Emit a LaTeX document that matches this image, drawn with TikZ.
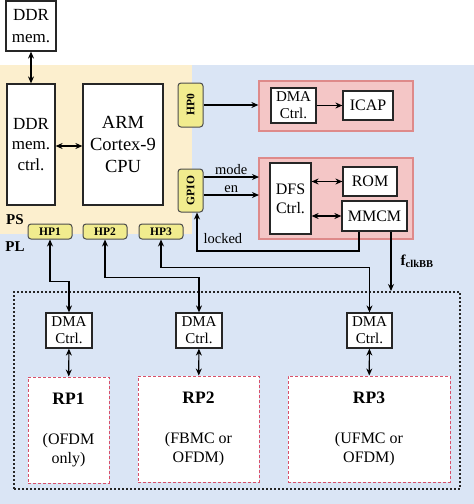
\documentclass[tikz,border=0pt]{standalone}
\usepackage{fontspec}
\setmainfont{Liberation Serif}
\usepackage{tikz}
\usetikzlibrary{shapes.geometric, arrows, arrows.meta}

\definecolor{psyellow}{HTML}{FCEFCE}
\definecolor{plblue}{HTML}{DAE5F5}
\definecolor{hpyellow}{HTML}{F1EC8E}
\definecolor{regionred}{HTML}{F4C6C6}
\definecolor{regionedge}{HTML}{DE8A8A}
\definecolor{rpedge}{HTML}{D8506A}

\tikzset{
    blk/.style={draw=black!85, fill=white, line width=1.2pt, align=center, inner sep=0pt,
        font=\fontsize{16}{19}\selectfont},
    smallblk/.style={blk, font=\fontsize{15}{17}\selectfont},
    hpbox/.style={draw=black!70, fill=hpyellow, line width=1pt, rounded corners=3pt,
        inner sep=0pt, font=\bfseries\fontsize{11.5}{12}\selectfont},
    region/.style={draw=regionedge, fill=regionred, line width=1.2pt, inner sep=0pt},
    rpbox/.style={draw=rpedge, fill=white, dash pattern=on 3pt off 2pt, line width=1pt, align=center, inner sep=0pt,
        font=\fontsize{16}{19}\selectfont},
    link/.style={line width=1.2pt, >={Stealth[length=7pt, width=6pt]}},
    sig/.style={font=\fontsize{14.5}{16}\selectfont},
}

\begin{document}
\begin{tikzpicture}[x=1pt, y=-1pt]
        \useasboundingbox (0,0) rectangle (474,504);
        % background: PS and PL
        \fill[plblue] (192,65) rectangle (474,504);
        \fill[plblue] (0,234) rectangle (474,504);
        \fill[psyellow] (0,65) rectangle (192,234);

        \node[blk, minimum width=50pt, minimum height=50pt, font=\fontsize{17}{22}\selectfont] (ddr_mem) at (31,26) {DDR\\mem.};
        \node[blk, minimum width=48pt, minimum height=121pt, font=\fontsize{17}{20.5}\selectfont] (ddr_ctrl) at (31,144.5) {DDR\\mem.\\ctrl.};
        \node[blk, minimum width=80pt, minimum height=121pt, font=\fontsize{18.5}{22}\selectfont] (arm) at (123,144.5) {ARM\\Cortex-9\\CPU};

        \node[hpbox, minimum width=25pt, minimum height=44pt] (hp0) at (190.5,105) {\rotatebox{90}{HP0}};
        \node[hpbox, minimum width=25pt, minimum height=43pt] (gpio) at (190.5,190.5) {\rotatebox{90}{GPIO}};
        \node[hpbox, minimum width=44pt, minimum height=15pt] (hp1) at (50,231.5) {HP1};
        \node[hpbox, minimum width=44pt, minimum height=15pt] (hp2) at (105,231.5) {HP2};
        \node[hpbox, minimum width=44pt, minimum height=15pt] (hp3) at (161,231.5) {HP3};

        \node[font=\bfseries\fontsize{15}{16}\selectfont] (ps) at (15,220) {PS};
        \node[font=\bfseries\fontsize{15}{16}\selectfont] (pl) at (15,247) {PL};

        % reconfiguration and clocking regions
        \node[region, minimum width=154pt, minimum height=50pt] (cfg_region) at (336,106) {};
        \node[smallblk, minimum width=45pt, minimum height=35pt] (dma_cfg) at (293.5,105.5) {DMA\\Ctrl.};
        \node[blk, minimum width=50pt, minimum height=29pt] (icap) at (368,105.5) {ICAP};

        \node[region, minimum width=154pt, minimum height=81pt] (clk_region) at (336,198.5) {};
        \node[blk, minimum width=41pt, minimum height=71pt] (dfs) at (290.5,198.5) {DFS\\Ctrl.};
        \node[blk, minimum width=54pt, minimum height=29pt] (rom) at (370,181.5) {ROM};
        \node[blk, minimum width=65pt, minimum height=30pt] (mmcm) at (374.5,216) {MMCM};

        % reconfigurable partitions
        \node[draw=black!85, line width=2pt, dotted, minimum width=446pt, minimum height=197pt] (rp_zone) at (237,390.5) {};
        \node[smallblk, minimum width=46pt, minimum height=35pt] (dma1) at (69,330.5) {DMA\\Ctrl.};
        \node[smallblk, minimum width=46pt, minimum height=35pt] (dma2) at (199,330.5) {DMA\\Ctrl.};
        \node[smallblk, minimum width=45pt, minimum height=35pt] (dma3) at (369.5,330.5) {DMA\\Ctrl.};
        \node[rpbox, minimum width=81pt, minimum height=106pt] (rp1) at (68.5,430) {{\bfseries\fontsize{17.5}{19}\selectfont RP1}\\[21pt](OFDM\\only)};
        \node[rpbox, minimum width=121pt, minimum height=106pt] (rp2) at (198.5,429) {{\bfseries\fontsize{17.5}{19}\selectfont RP2}\\[21pt](FBMC or\\OFDM)};
        \node[rpbox, minimum width=162pt, minimum height=106pt] (rp3) at (369,429) {{\bfseries\fontsize{17.5}{19}\selectfont RP3}\\[21pt](UFMC or\\OFDM)};

        \coordinate (mode_in) at (259,177);
        \coordinate (en_in) at (259,195);
        \coordinate (locked_turn) at (197,251);
        \coordinate (locked_out) at ([xshift=-15.5pt]mmcm.south);
        \coordinate (clk_out) at ([xshift=16.5pt]mmcm.south);

        \draw[link, <->] (ddr_mem) -- (ddr_ctrl);
        \draw[link, <->] (ddr_ctrl.east |- 0,146) -- (arm.west |- 0,146);
        \draw[link, ->] (hp0) -- (hp0 -| cfg_region.west);
        \draw[link, ->] (dma_cfg) -- (icap);
        \draw[link, ->] (gpio.east |- mode_in) -- (mode_in) node[sig, midway, above, yshift=-2pt] {mode};
        \draw[link, ->] (gpio.east |- en_in) -- (en_in) node[sig, midway, above, yshift=-2pt] {en};
        \draw[link, <->] (dfs.east |- rom) -- (rom);
        \draw[link, <->] (dfs.east |- mmcm) -- (mmcm);
        \draw[link, ->] (locked_out) |- (locked_turn) -- (locked_turn |- gpio.south);
        \node[sig, anchor=base west] (locked) at (200,243) {locked};
        \draw[link, ->] (clk_out) -- (clk_out |- rp_zone.north);
        \node[anchor=base west, font=\fontsize{15}{16}\selectfont] (f_clk) at (397,265) {\textbf{f}\textsubscript{\textbf{clkBB}}};

        \draw[link, <->] (hp1.south) -- ++(0,42) -| (dma1.north);
        \draw[link, <->] (hp2.south) -- ++(0,38) -| (dma2.north);
        \draw[link, <->] (hp3.south) -- ++(0,28) -| (dma3.north);
        \draw[link, <->] (dma1) -- (rp1);
        \draw[link, <->] (dma2) -- (rp2);
        \draw[link, <->] (dma3) -- (rp3);
    \end{tikzpicture}
\end{document}
